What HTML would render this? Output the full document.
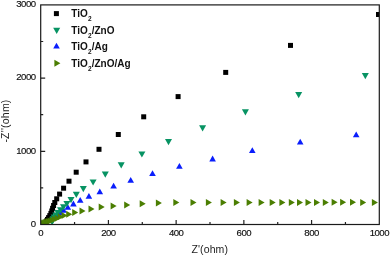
<!DOCTYPE html>
<html><head><meta charset="utf-8"><style>
html,body{margin:0;padding:0;background:#fff;width:390px;height:257px;overflow:hidden}
svg{display:block;will-change:transform}
</style></head><body>
<svg width="390" height="257" viewBox="0 0 390 257">
<defs><clipPath id="c"><rect x="40.7" y="4.9" width="338.6" height="219.6"/></clipPath></defs>
<rect width="390" height="257" fill="#fff"/>
<g fill="#000000" clip-path="url(#c)"><rect x="43.10" y="219.70" width="5.0" height="5.0"/><rect x="44.00" y="218.50" width="5.0" height="5.0"/><rect x="45.00" y="216.90" width="5.0" height="5.0"/><rect x="46.10" y="215.10" width="5.0" height="5.0"/><rect x="47.30" y="213.10" width="5.0" height="5.0"/><rect x="48.40" y="210.90" width="5.0" height="5.0"/><rect x="49.30" y="208.50" width="5.0" height="5.0"/><rect x="50.10" y="205.80" width="5.0" height="5.0"/><rect x="51.10" y="203.00" width="5.0" height="5.0"/><rect x="52.30" y="200.00" width="5.0" height="5.0"/><rect x="54.20" y="196.30" width="5.0" height="5.0"/><rect x="57.10" y="191.60" width="5.0" height="5.0"/><rect x="61.10" y="185.70" width="5.0" height="5.0"/><rect x="66.50" y="178.70" width="5.0" height="5.0"/><rect x="73.70" y="169.70" width="5.0" height="5.0"/><rect x="83.50" y="159.40" width="5.0" height="5.0"/><rect x="96.50" y="146.80" width="5.0" height="5.0"/><rect x="115.80" y="132.00" width="5.0" height="5.0"/><rect x="141.20" y="114.30" width="5.0" height="5.0"/><rect x="175.60" y="94.10" width="5.0" height="5.0"/><rect x="223.20" y="69.90" width="5.0" height="5.0"/><rect x="288.00" y="42.90" width="5.0" height="5.0"/><rect x="376.00" y="12.00" width="5.0" height="5.0"/></g>
<g fill="#0a1efc" clip-path="url(#c)"><path d="M54.70 217.40H61.30L58.00 211.60Z"/><path d="M57.20 215.20H63.80L60.50 209.40Z"/><path d="M60.20 212.70H66.80L63.50 206.90Z"/><path d="M64.50 209.70H71.10L67.80 203.90Z"/><path d="M70.10 206.40H76.70L73.40 200.60Z"/><path d="M76.90 202.70H83.50L80.20 196.90Z"/><path d="M85.60 198.70H92.20L88.90 192.90Z"/><path d="M96.50 194.20H103.10L99.80 188.40Z"/><path d="M110.30 188.60H116.90L113.60 182.80Z"/><path d="M127.40 182.80H134.00L130.70 177.00Z"/><path d="M149.20 176.00H155.80L152.50 170.20Z"/><path d="M176.10 168.70H182.70L179.40 162.90Z"/><path d="M209.30 161.40H215.90L212.60 155.60Z"/><path d="M249.00 153.00H255.60L252.30 147.20Z"/><path d="M296.90 144.50H303.50L300.20 138.70Z"/><path d="M352.90 137.30H359.50L356.20 131.50Z"/></g>
<g fill="#079363" clip-path="url(#c)"><path d="M48.60 219.20H55.60L52.10 225.40Z"/><path d="M49.10 217.80H56.10L52.60 224.00Z"/><path d="M49.70 216.30H56.70L53.20 222.50Z"/><path d="M50.70 214.50H57.70L54.20 220.70Z"/><path d="M52.30 212.40H59.30L55.80 218.60Z"/><path d="M54.40 210.00H61.40L57.90 216.20Z"/><path d="M57.00 207.30H64.00L60.50 213.50Z"/><path d="M60.00 204.30H67.00L63.50 210.50Z"/><path d="M63.40 200.90H70.40L66.90 207.10Z"/><path d="M67.50 197.10H74.50L71.00 203.30Z"/><path d="M72.80 191.80H79.80L76.30 198.00Z"/><path d="M79.80 186.10H86.80L83.30 192.30Z"/><path d="M89.60 179.40H96.60L93.10 185.60Z"/><path d="M101.80 171.50H108.80L105.30 177.70Z"/><path d="M117.70 162.30H124.70L121.20 168.50Z"/><path d="M138.40 151.40H145.40L141.90 157.60Z"/><path d="M165.00 139.10H172.00L168.50 145.30Z"/><path d="M199.10 125.20H206.10L202.60 131.40Z"/><path d="M241.90 109.20H248.90L245.40 115.40Z"/><path d="M295.20 92.10H302.20L298.70 98.30Z"/><path d="M361.80 73.10H368.80L365.30 79.30Z"/></g>
<g fill="#4b7e02" clip-path="url(#c)"><path d="M40.60 219.80V226.80L46.60 223.30Z"/><path d="M41.50 219.50V226.50L47.50 223.00Z"/><path d="M42.70 219.10V226.10L48.70 222.60Z"/><path d="M44.10 218.60V225.60L50.10 222.10Z"/><path d="M45.70 218.00V225.00L51.70 221.50Z"/><path d="M47.50 217.40V224.40L53.50 220.90Z"/><path d="M49.60 216.70V223.70L55.60 220.20Z"/><path d="M52.00 215.80V222.80L58.00 219.30Z"/><path d="M54.70 214.80V221.80L60.70 218.30Z"/><path d="M57.80 213.30V220.30L63.80 216.80Z"/><path d="M61.50 212.10V219.10L67.50 215.60Z"/><path d="M66.20 210.70V217.70L72.20 214.20Z"/><path d="M72.20 209.10V216.10L78.20 212.60Z"/><path d="M79.50 207.50V214.50L85.50 211.00Z"/><path d="M88.50 205.50V212.50L94.50 209.00Z"/><path d="M98.70 203.60V210.60L104.70 207.10Z"/><path d="M110.60 202.40V209.40L116.60 205.90Z"/><path d="M124.20 201.50V208.50L130.20 205.00Z"/><path d="M139.70 200.30V207.30L145.70 203.80Z"/><path d="M155.90 199.40V206.40L161.90 202.90Z"/><path d="M173.30 199.00V206.00L179.30 202.50Z"/><path d="M190.50 198.90V205.90L196.50 202.40Z"/><path d="M205.90 198.90V205.90L211.90 202.40Z"/><path d="M220.60 199.10V206.10L226.60 202.60Z"/><path d="M233.90 199.10V206.10L239.90 202.60Z"/><path d="M246.60 198.90V205.90L252.60 202.40Z"/><path d="M258.60 198.90V205.90L264.60 202.40Z"/><path d="M269.70 198.90V205.90L275.70 202.40Z"/><path d="M279.40 198.90V205.90L285.40 202.40Z"/><path d="M288.80 199.00V206.00L294.80 202.50Z"/><path d="M297.00 199.00V206.00L303.00 202.50Z"/><path d="M305.50 199.00V206.00L311.50 202.50Z"/><path d="M314.00 199.00V206.00L320.00 202.50Z"/><path d="M322.80 198.90V205.90L328.80 202.40Z"/><path d="M331.60 198.80V205.80L337.60 202.30Z"/><path d="M340.10 198.80V205.80L346.10 202.30Z"/><path d="M350.00 198.80V205.80L356.00 202.30Z"/><path d="M360.20 198.90V205.90L366.20 202.40Z"/><path d="M371.90 198.90V205.90L377.90 202.40Z"/></g>
<path d="M74.56 224.5V222.0M108.42 224.5V220.0M142.28 224.5V222.0M176.14 224.5V220.0M210.00 224.5V222.0M243.86 224.5V220.0M277.72 224.5V222.0M311.58 224.5V220.0M345.44 224.5V222.0M40.7 187.90H43.2M40.7 151.30H45.2M40.7 114.70H43.2M40.7 78.10H45.2M40.7 41.50H43.2" stroke="#222" stroke-width="1.2" fill="none"/>
<rect x="40.7" y="4.9" width="338.60" height="219.60" fill="none" stroke="#1a1a1a" stroke-width="1.2"/>
<g font-family="'Liberation Sans', sans-serif" font-size="9.6" letter-spacing="-0.5" fill="#111" stroke="#111" stroke-width="0.15"><text x="40.70" y="236.4" text-anchor="middle">0</text><text x="108.42" y="236.4" text-anchor="middle">200</text><text x="176.14" y="236.4" text-anchor="middle">400</text><text x="243.86" y="236.4" text-anchor="middle">600</text><text x="311.58" y="236.4" text-anchor="middle">800</text><text x="379.30" y="236.4" text-anchor="middle">1000</text><text x="35.6" y="226.80" text-anchor="end">0</text><text x="35.6" y="153.60" text-anchor="end">1000</text><text x="35.6" y="80.40" text-anchor="end">2000</text><text x="35.6" y="7.20" text-anchor="end">3000</text></g>
<text x="191.5" y="253.2" font-family="'Liberation Sans', sans-serif" font-size="10.5" letter-spacing="0.1" fill="#222">Z'(ohm)</text>
<text transform="translate(9.3 142.6) rotate(-90)" font-family="'Liberation Sans', sans-serif" font-size="10.5" letter-spacing="0.2" fill="#222">-Z''(ohm)</text>
<g fill="#000000"><rect x="53.90" y="11.10" width="5.0" height="5.0"/></g>
<g fill="#079363"><path d="M53.20 27.70H60.20L56.70 33.90Z"/></g>
<g fill="#0a1efc"><path d="M53.20 48.60H59.80L56.50 42.80Z"/></g>
<g fill="#4b7e02"><path d="M54.40 59.70V66.70L60.40 63.20Z"/></g>
<g font-family="'Liberation Sans', sans-serif" font-size="10" font-weight="bold" fill="#111">
<text x="71.3" y="16.8">TiO<tspan font-size="6.5" dx="0.3" dy="4.2">2</tspan></text>
<text x="71.3" y="33.5">TiO<tspan font-size="6.5" dx="0.3" dy="4.2">2</tspan><tspan dy="-4.2">/ZnO</tspan></text>
<text x="71.3" y="50.2">TiO<tspan font-size="6.5" dx="0.3" dy="4.2">2</tspan><tspan dy="-4.2">/Ag</tspan></text>
<text x="71.3" y="66.8">TiO<tspan font-size="6.5" dx="0.3" dy="4.2">2</tspan><tspan dy="-4.2">/ZnO/Ag</tspan></text>
</g>
</svg>
</body></html>
